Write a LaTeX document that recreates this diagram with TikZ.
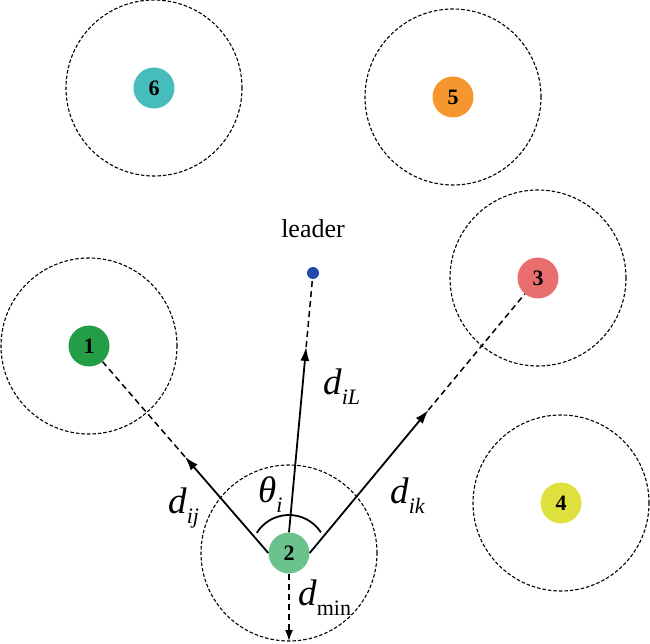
\documentclass[tikz,border=0pt]{standalone}
\usepackage{fontspec}
\setmainfont{Liberation Serif}
\usetikzlibrary{arrows.meta,calc}

\definecolor{cone}{RGB}{36,158,70}
\definecolor{ctwo}{RGB}{108,194,140}
\definecolor{cthree}{RGB}{233,110,110}
\definecolor{cfour}{RGB}{223,226,62}
\definecolor{cfive}{RGB}{246,150,47}
\definecolor{csix}{RGB}{70,188,188}
\definecolor{cleader}{RGB}{36,73,168}

\newcommand{\lab}[2]{\textit{#1}\raisebox{-10pt}{\fontsize{22}{22}\selectfont #2}}

\begin{document}
\begin{tikzpicture}[x=1pt,y=1pt,
    robot/.style={circle, minimum size=41pt, inner sep=0pt, font=\fontsize{22}{22}\selectfont\bfseries},
    zone/.style={draw, line width=1.1pt, dash pattern=on 3.5pt off 2pt},
    link/.style={line width=1.8pt, -{Latex[length=14pt,width=9pt]}},
    trail/.style={line width=1.5pt, dash pattern=on 6pt off 4pt},
    sym/.style={anchor=base west, inner sep=0pt, font=\fontsize{37}{37}\selectfont}]
    \useasboundingbox (0,0) rectangle (650,643);
    % Nodes
    \node[robot, fill=cone] (r1) at (89,297) {1};
    \node[robot, fill=ctwo] (r2) at (289,90) {2};
    \node[robot, fill=cthree] (r3) at (538,365) {3};
    \node[robot, fill=cfour] (r4) at (561,140) {4};
    \node[robot, fill=cfive] (r5) at (453,546) {5};
    \node[robot, fill=csix] (r6) at (154,555) {6};
    \node[circle, fill=cleader, minimum size=12pt, inner sep=0pt] (leader) at (313,370) {};
    \node[anchor=base, inner sep=0pt, font=\fontsize{26}{26}\selectfont] (leadertext) at (313,405) {leader};
    % Safety zones
    \foreach \n in {1,...,6}
        \draw[zone] (r\n) circle[radius=88pt];
    % Arrows
    \coordinate (tipj) at ($(r2.west)!0.465!(r1)$);
    \coordinate (tipl) at ($(r2.north)!0.715!(leader)$);
    \coordinate (tipk) at ($(r2.east)!0.52!(r3)$);
    \coordinate (rimtwo) at ($(r2)+(0,-88)$);
    \draw[link] (r2.west) -- (tipj);
    \draw[trail] (tipj) -- (r1);
    \draw[link] (r2.north) -- (tipl);
    \draw[trail] (tipl) -- (leader);
    \draw[link] (r2.east) -- (tipk);
    \draw[trail] (tipk) -- (r3);
    \draw[trail, -{Latex[length=11pt,width=8pt]}] (r2.south) -- (rimtwo);
    % Angle
    \draw[line width=1.8pt] ([shift={(33:38pt)}]r2.center) arc[start angle=33, end angle=148, radius=38pt];
    % Labels
    \node[sym] (theta) at (258,141) {\lab{θ}{\textit{i}}};
    \node[sym] (dij) at (168,130) {\lab{d}{\textit{ij}}};
    \node[sym] (dil) at (323,248) {\lab{d}{\textit{iL}}};
    \node[sym] (dik) at (390,140) {\lab{d}{\textit{ik}}};
    \node[sym] (dmin) at (298,38) {\lab{d}{min}};
\end{tikzpicture}
\end{document}
